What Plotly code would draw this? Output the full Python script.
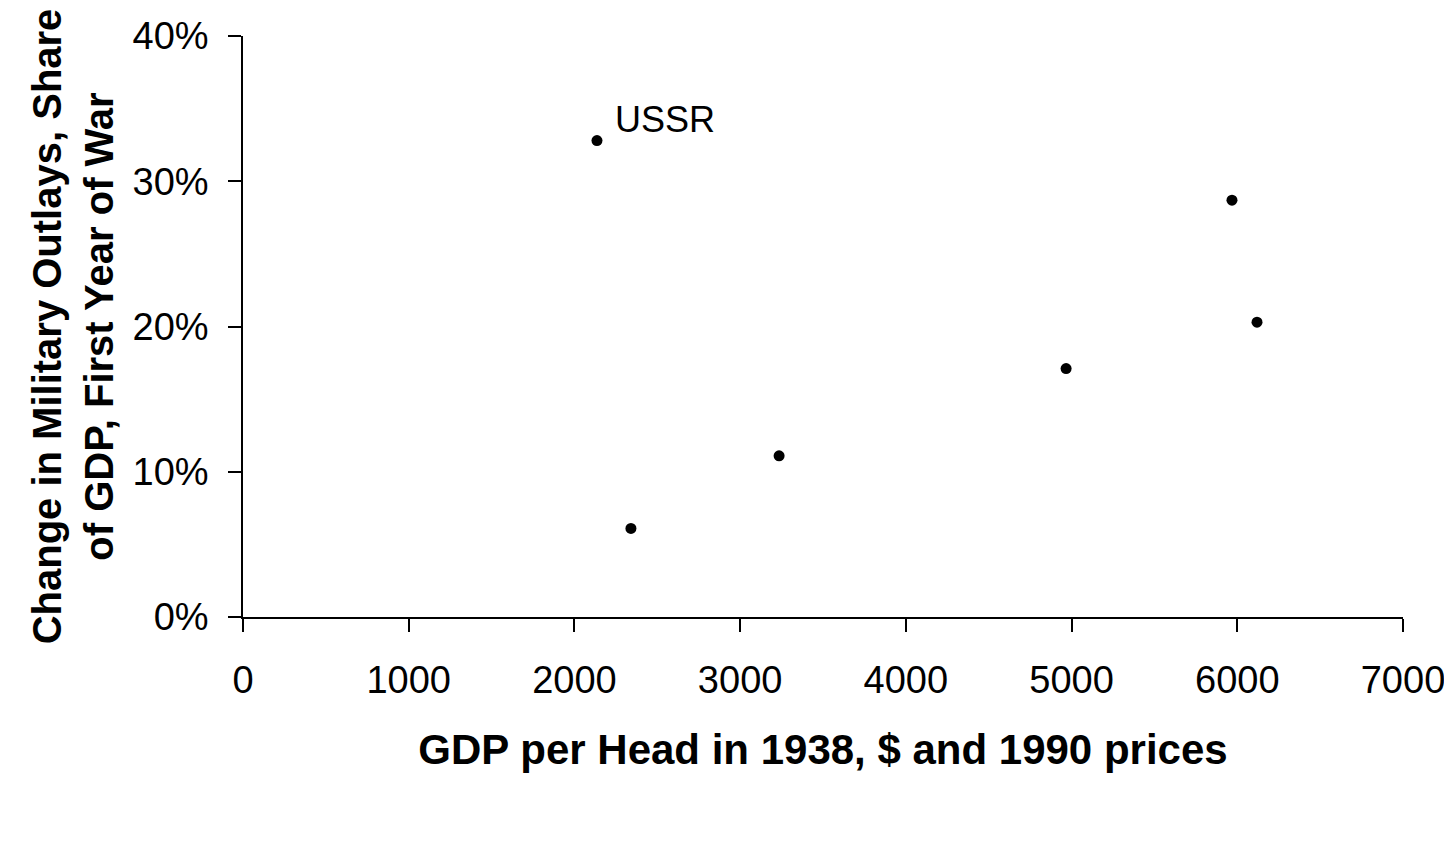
import plotly.graph_objects as go

# Data
gdp_per_head = [2136, 2341, 3235, 4967, 5968, 6119]
mil_change = [0.328, 0.061, 0.111, 0.171, 0.287, 0.203]
point_labels = ["USSR", "", "", "", "", ""]

x_ticks = [0, 1000, 2000, 3000, 4000, 5000, 6000, 7000]
y_ticks = [0, 0.1, 0.2, 0.3, 0.4]

FONT = "Liberation Sans, Arial, sans-serif"

fig = go.Figure()
fig.add_trace(go.Scatter(
    x=gdp_per_head, y=mil_change, mode="markers",
    marker=dict(color="black", size=11),
    showlegend=False, hoverinfo="skip",
))

for xv, yv, lab in zip(gdp_per_head, mil_change, point_labels):
    if lab:
        fig.add_annotation(x=xv, y=yv, text=lab, showarrow=False,
                           xanchor="left", yanchor="middle",
                           xshift=16, yshift=21,
                           font=dict(family=FONT, size=36, color="black"))

fig.update_layout(
    width=1444, height=849,
    margin=dict(l=243, r=41, t=36, b=232),
    paper_bgcolor="white", plot_bgcolor="white",
    font=dict(family=FONT, color="black"),
)
fig.update_xaxes(
    range=[0, 7000], tickvals=x_ticks, ticktext=[str(v) for v in x_ticks],
    showgrid=False, zeroline=False, automargin=False,
    showline=True, linecolor="black", linewidth=1.5,
    ticks="outside", ticklen=13, tickwidth=1.5, tickcolor="black",
    tickfont=dict(family=FONT, size=38, color="black"),
    ticklabelstandoff=16, ticklabeloverflow="allow",
    title=dict(text="<b>GDP per Head in 1938, $ and 1990 prices</b>",
               font=dict(family=FONT, size=42, color="black"), standoff=34),
)
fig.update_yaxes(
    range=[0, 0.4], tickvals=y_ticks, tickformat=".0%",
    showgrid=False, zeroline=False, automargin=False,
    showline=True, linecolor="black", linewidth=1.5,
    ticks="outside", ticklen=13, tickwidth=1.5, tickcolor="black",
    tickfont=dict(family=FONT, size=38, color="black"),
    ticklabelstandoff=12, ticklabeloverflow="allow",
    title=dict(text="<b>Change in Military Outlays, Share<br>of GDP, First Year of War</b>",
               font=dict(family=FONT, size=40, color="black"), standoff=7),
)

fig.write_html("out.html")
